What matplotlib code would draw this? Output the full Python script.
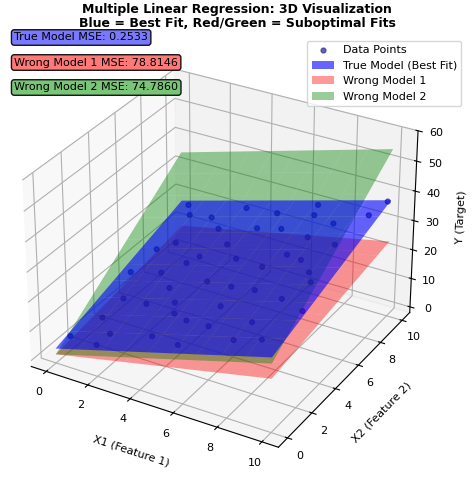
import matplotlib
matplotlib.use("Agg")
import matplotlib.pyplot as plt
import numpy as np

x1 = [1,2,3,4,5,6,7,8,9,1,2,3,4,5,6,7,8,9,0.5,1.5,2.5,3.5,4.5,5.5,6.5,7.5,8.5,9.5,0.2,1.2,2.2,3.2,4.2,5.2,6.2,7.2,8.2,9.2,0.8,1.8,2.8,3.8,4.8,5.8,6.8,7.8,8.8,9.8,0.4,9.9]
x2 = [2,5,8,1,6,3,9,2,7,9,1,4,7,2,8,4,6,1,5,7,3,9.5,4.5,0.5,5.5,7.5,3.5,9,0.8,3.3,8.8,6.1,2.4,9.1,1.7,6.3,8.4,4.6,6.6,0.3,5.7,3.1,8.1,4.2,9.7,0.9,5.2,2.8,9.9,9.9]
y = [8.2,14.6,21.1,12.4,22.1,19.3,30.4,22.2,31.6,18.4,8.7,15.2,21.3,16.1,27.2,23.1,28.0,22.6,11.6,16.7,12.4,24.1,18.8,14.8,24.3,29.2,25.3,35.4,4.6,10.3,20.6,18.7,15.1,27.1,18.0,27.0,32.1,28.2,14.4,7.2,17.1,15.3,24.6,20.9,31.1,20.1,28.4,26.8,17.6,37.7]

true_coef = [3, 2, 1.5]
wrong1_coef = [1, 1.5, 0.8]
wrong2_coef = [1, 2, 3.4]
mse_labels = ["True Model MSE: 0.2533", "Wrong Model 1 MSE: 78.8146", "Wrong Model 2 MSE: 74.7860"]

fig = plt.figure(figsize=(4.74, 5), dpi=100)
ax = fig.add_subplot(111, projection='3d')
ax.set_position([-0.03, 0.05, 0.98, 0.88])
g = np.linspace(0, 10, 10)
G1, G2 = np.meshgrid(g, g)
ax.scatter(x1, x2, y, color='#2a2a8a', s=12, alpha=0.7, label='Data Points')
for coef, col, a, lab in [(true_coef, 'blue', 0.6, 'True Model (Best Fit)'),
                           (wrong1_coef, 'red', 0.4, 'Wrong Model 1'),
                           (wrong2_coef, 'green', 0.4, 'Wrong Model 2')]:
    Z = coef[0] + coef[1]*G1 + coef[2]*G2
    ax.plot_surface(G1, G2, Z, color=col, alpha=a, label=lab, shade=False, linewidth=0)
ax.set_xlabel('X1 (Feature 1)', fontsize=8, labelpad=2)
ax.set_ylabel('X2 (Feature 2)', fontsize=8, labelpad=2)
ax.set_zlabel('Y (Target)', fontsize=8, labelpad=0)
ax.set_zlim(-2, 60)
ax.set_xticks([0,2,4,6,8,10]); ax.set_yticks([0,2,4,6,8,10]); ax.set_zticks([0,10,20,30,40,50,60])
ax.tick_params(labelsize=8, pad=0)
fig.legend(*ax.get_legend_handles_labels(), loc='upper right', fontsize=8, bbox_to_anchor=(0.985, 0.93))
fig.suptitle('Multiple Linear Regression: 3D Visualization\nBlue = Best Fit, Red/Green = Suboptimal Fits',
             fontsize=9, fontweight='bold', y=0.995)
cols = ['#6a6aff', '#ff6a6a', '#6ac06a']
for i, (t, c) in enumerate(zip(mse_labels, cols)):
    fig.text(0.03, 0.925 - i*0.05, t, fontsize=8, va='center',
             bbox=dict(boxstyle='round,pad=0.25', facecolor=c, edgecolor='black', alpha=0.9))
fig.savefig('out.png', dpi=100)
